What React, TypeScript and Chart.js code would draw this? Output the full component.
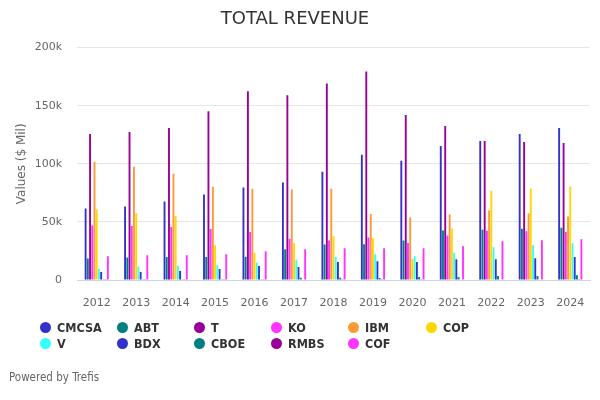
import { useEffect, useRef } from "react";
import { Chart, registerables } from "chart.js";

Chart.register(...registerables);

const years = ["2012", "2013", "2014", "2015", "2016", "2017", "2018", "2019", "2020", "2021", "2022", "2023", "2024"];

// revenue in $ Mil
const cmcsa = [61500, 63200, 67500, 73500, 79500, 83800, 93200, 107700, 102600, 115400, 119700, 125600, 130800];
const abt = [18500, 19400, 19900, 19700, 20000, 26500, 30500, 30800, 33900, 42500, 43300, 44200, 44900];
const att = [125600, 127400, 130800, 145300, 162400, 159000, 169200, 179500, 141900, 132500, 119700, 118800, 117900];
const ko = [47000, 46400, 45600, 43900, 41300, 35600, 33900, 36500, 31900, 38200, 42300, 41900, 41400];
const ibm = [101700, 97400, 91500, 80300, 78600, 77800, 78600, 56700, 53800, 56400, 59800, 57500, 54700];
const cop = [60700, 57500, 55000, 29900, 23400, 31900, 37600, 36200, 18000, 44400, 76900, 78800, 80500];
const visa = [9400, 11400, 12300, 12800, 14800, 17400, 19700, 22200, 20500, 23400, 28200, 29900, 31600];
const bdx = [6800, 6800, 7700, 9400, 12000, 11100, 15400, 16200, 15400, 17900, 17900, 18800, 19700];
const cboe = [600, 600, 600, 600, 600, 2000, 2000, 1700, 2600, 2600, 3400, 3400, 4000];
const rmbs = [230, 270, 300, 300, 280, 390, 230, 220, 250, 330, 450, 460, 560];
const cof = [20500, 21400, 21400, 22200, 24800, 26500, 27400, 27400, 27400, 29100, 33300, 34200, 35000];

const names = ["CMCSA", "ABT", "T", "KO", "IBM", "COP", "V", "BDX", "CBOE", "RMBS", "COF"];
const seriesData = [cmcsa, abt, att, ko, ibm, cop, visa, bdx, cboe, rmbs, cof];
const colors = [
  "#3333cc", // blue
  "#008080", // teal
  "#990099", // purple
  "#ff33ff", // magenta
  "#ff9933", // orange
  "#ffd700", // gold
  "#33ffff", // cyan
  "#3333cc",
  "#008080",
  "#990099",
  "#ff33ff",
];

const FONT = "'DejaVu Sans', Verdana, sans-serif";
const COND = "'DejaVu Sans Condensed', 'DejaVu Sans', sans-serif";

export default function App() {
  const chartRef = useRef<HTMLCanvasElement>(null);
  const chartInstance = useRef<Chart | null>(null);

  useEffect(() => {
    document.body.style.margin = "0";
    if (!chartRef.current) return;
    if (chartInstance.current) chartInstance.current.destroy();

    const ctx = chartRef.current.getContext("2d");
    if (!ctx) return;

    chartInstance.current = new Chart(ctx, {
      type: "bar",
      data: {
        labels: years,
        datasets: names.map((name, i) => ({
          label: name,
          data: seriesData[i],
          backgroundColor: colors[i],
          borderWidth: 0,
          categoryPercentage: 0.62,
          barPercentage: 0.85,
        })),
      },
      options: {
        responsive: false,
        animation: false,
        layout: { padding: { left: 0, right: 10, top: 0, bottom: 90 } },
        plugins: {
          legend: { display: false },
          tooltip: { enabled: false },
          title: {
            display: true,
            text: "TOTAL REVENUE",
            color: "#333333",
            font: { family: FONT, size: 18, weight: "normal" },
            padding: { top: 9, bottom: 17 },
          },
        },
        scales: {
          x: {
            grid: { display: false },
            border: { color: "#ccd6eb", width: 1 },
            ticks: { color: "#666666", font: { family: FONT, size: 11 }, padding: 9 },
            afterFit: (s: any) => {
              s.height = 30;
            },
          },
          y: {
            min: 0,
            max: 200000,
            ticks: {
              stepSize: 50000,
              color: "#666666",
              font: { family: FONT, size: 11 },
              padding: 15,
              callback: (v: any) => (v === 0 ? "0" : `${Number(v) / 1000}k`),
            },
            grid: { color: "#e6e6e6", drawTicks: false },
            border: { display: false },
            title: {
              display: true,
              text: "Values ($ Mil)",
              color: "#666666",
              font: { family: FONT, size: 12 },
              padding: { top: 15, bottom: 0 },
            },
            afterFit: (s: any) => {
              s.width = 77;
            },
          },
        },
      },
    });

    return () => {
      if (chartInstance.current) {
        chartInstance.current.destroy();
        chartInstance.current = null;
      }
    };
  }, []);

  const colX = [46, 123, 200, 277, 354, 432];

  return (
    <div style={{ position: "relative", width: 600, height: 400, fontFamily: FONT, background: "#fff" }}>
      <canvas ref={chartRef} width={600} height={400} style={{ display: "block" }} />
      {names.map((name, i) => {
        const row = Math.floor(i / 6);
        const col = i % 6;
        return (
          <div
            key={name + i}
            style={{
              position: "absolute",
              left: colX[col] - 6,
              top: 327 + row * 16 - 7,
              height: 14,
              display: "flex",
              alignItems: "center",
              whiteSpace: "nowrap",
            }}
          >
            <span
              style={{
                width: 11,
                height: 11,
                borderRadius: "50%",
                background: colors[i],
                display: "inline-block",
                marginRight: 6,
              }}
            ></span>
            <span style={{ fontFamily: COND, fontSize: 12.5, fontWeight: "bold", color: "#333333" }}>{name}</span>
          </div>
        );
      })}
      <div style={{ position: "absolute", left: 9, top: 370, fontFamily: COND, fontSize: 11.5, color: "#666666" }}>
        Powered by Trefis
      </div>
    </div>
  );
}
